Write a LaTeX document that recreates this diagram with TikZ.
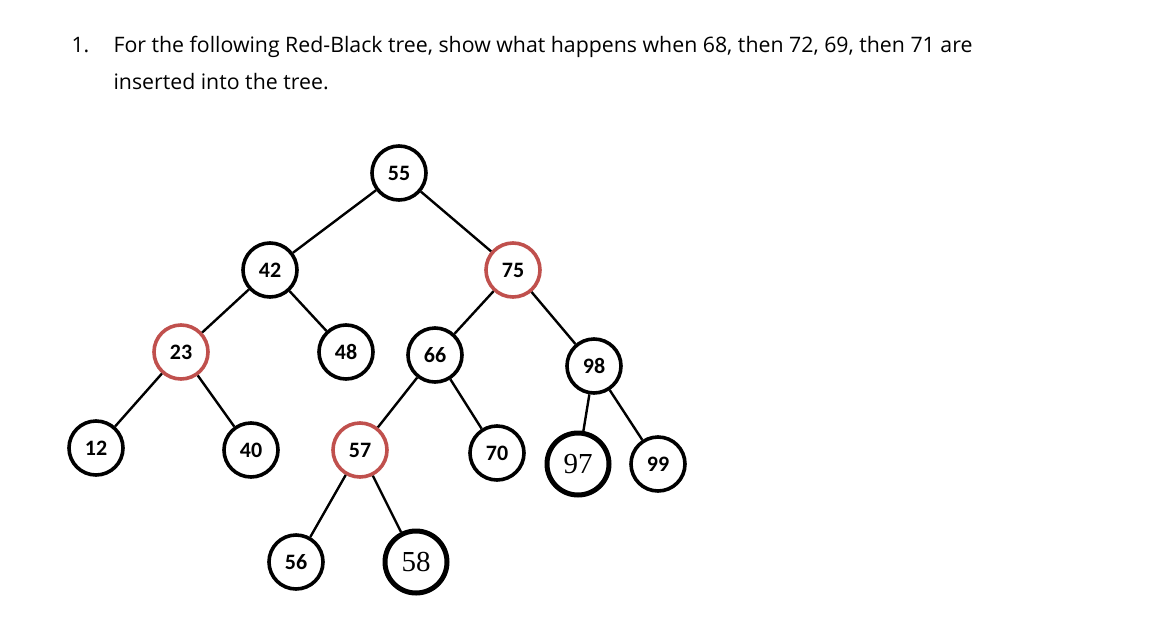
\documentclass[tikz,border=0pt]{standalone}
\usepackage{fontspec}
\setmainfont{Carlito}
\newfontfamily\serifnum{Liberation Serif}
\newfontfamily\textfnt{Open Sans}
\definecolor{rbred}{RGB}{192,80,77}
\begin{document}
\begin{tikzpicture}[x=1pt,y=-1pt,
  nd/.style={circle,draw=black,line width=3.6pt,minimum size=54pt,inner sep=0pt,font=\bfseries\fontsize{22}{22}\selectfont,fill=white},
  rd/.style={nd,draw=rbred},
  big/.style={nd,minimum size=62pt,line width=5pt,font=\serifnum\fontsize{29}{29}\selectfont},
  tx/.style={anchor=base west,font=\textfnt\fontsize{21.3}{21.3}\selectfont},
  ed/.style={line width=2.4pt}]
\useasboundingbox (0,0) rectangle (1159,627);
\node[tx] (n1) at (68,52) {1.};
\node[tx] (t1) at (110,52) {For the following Red-Black tree, show what happens when 68, then 72, 69, then 71 are};
\node[tx] (t2) at (110,89) {inserted into the tree.};
\node[nd] (a55) at (399,173) {55};
\node[nd] (a42) at (270,270) {42};
\node[rd] (a75) at (513,270) {75};
\node[rd] (a23) at (181,352) {23};
\node[nd] (a48) at (346,352) {48};
\node[nd] (a66) at (435,355) {66};
\node[nd] (a98) at (594,366) {98};
\node[nd] (a12) at (96,448) {12};
\node[nd] (a40) at (251,450) {40};
\node[rd] (a57) at (360,450) {57};
\node[nd] (a70) at (497,453) {70};
\node[big] (a97) at (578,464) {97};
\node[nd] (a99) at (658,464) {99};
\node[nd] (a56) at (296,562) {56};
\node[big] (a58) at (416,562) {58};
\foreach \u/\v in {a55/a42,a55/a75,a42/a23,a42/a48,a75/a66,a75/a98,a23/a12,a23/a40,a66/a57,a66/a70,a98/a97,a98/a99,a57/a56,a57/a58}
  \draw[ed] (\u) -- (\v);
\end{tikzpicture}
\end{document}
